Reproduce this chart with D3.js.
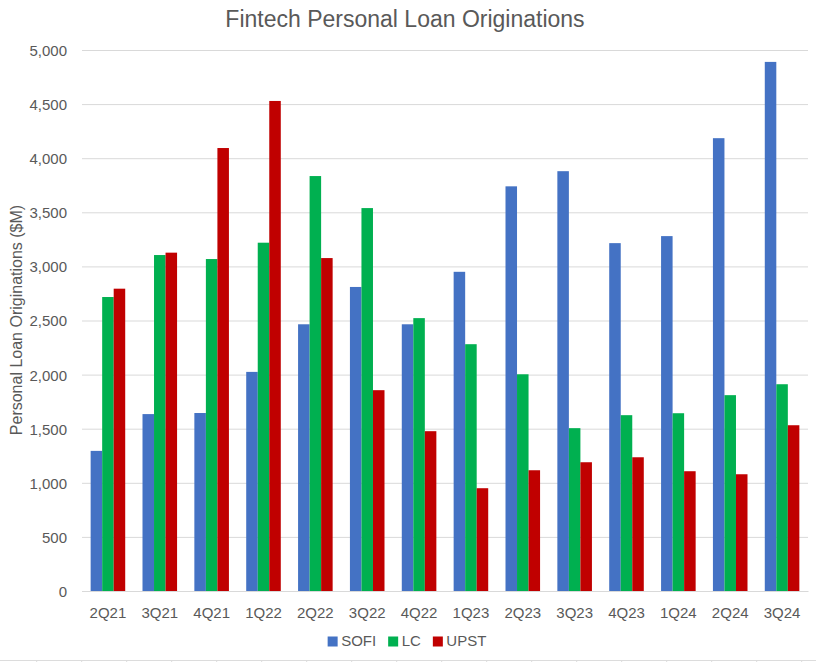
<!DOCTYPE html>
<html>
<head>
<meta charset="utf-8">
<script src="https://cdn.jsdelivr.net/npm/d3@7"></script>
<style>
  html, body { margin: 0; padding: 0; background: #fff; }
  svg { display: block; font-family: "Liberation Sans", Arial, sans-serif; }
</style>
</head>
<body>
<svg id="chart" width="816" height="662"></svg>
<script>
const categories = ["2Q21","3Q21","4Q21","1Q22","2Q22","3Q22","4Q22","1Q23","2Q23","3Q23","4Q23","1Q24","2Q24","3Q24"];
const seriesNames = ["SOFI","LC","UPST"];
const sofiValues = [1295, 1635, 1645, 2025, 2465, 2810, 2465, 2950, 3740, 3880, 3215, 3280, 4185, 4890];
const lcValues   = [2717, 3105, 3068, 3219, 3835, 3539, 2522, 2281, 2003, 1505, 1625, 1643, 1810, 1911];
const upstValues = [2794, 3127, 4094, 4529, 3077, 1856, 1477, 950, 1116, 1190, 1236, 1107, 1079, 1532];
const yTicks = [0, 500, 1000, 1500, 2000, 2500, 3000, 3500, 4000, 4500, 5000];
const colors = { SOFI: "#4472C4", LC: "#00B050", UPST: "#C00000" };

const valuesBySeries = { SOFI: sofiValues, LC: lcValues, UPST: upstValues };
const svg = d3.select("#chart");
const W = 816, H = 662;
const plot = { left: 82, right: 808, top: 50, bottom: 591 };
const textColor = "#595959";

const x0 = d3.scaleBand().domain(categories).range([plot.left, plot.right])
  .paddingInner(1/3).paddingOuter(1/6);
const x1 = d3.scaleBand().domain(seriesNames).range([0, x0.bandwidth()]);
const y = d3.scaleLinear().domain([0, 5000]).range([plot.bottom, plot.top]);

// spreadsheet cell border strip at bottom
svg.append("line").attr("x1", 0).attr("x2", W).attr("y1", 660.5).attr("y2", 660.5)
  .attr("stroke", "#dcdcdc").attr("stroke-width", 1);
d3.range(36.7, W, 45).forEach(xx => {
  svg.append("line").attr("x1", xx).attr("x2", xx).attr("y1", 660).attr("y2", 662)
    .attr("stroke", "#dcdcdc").attr("stroke-width", 1);
});

// title
svg.append("text").attr("x", 405).attr("y", 27).attr("text-anchor", "middle")
  .attr("font-size", 23).attr("fill", textColor).text("Fintech Personal Loan Originations");

// y axis gridlines + labels
const yAxis = d3.axisLeft(y).tickValues(yTicks).tickSize(-(plot.right - plot.left))
  .tickPadding(15).tickFormat(d3.format(","));
const yg = svg.append("g").attr("transform", `translate(${plot.left},0)`).call(yAxis);
yg.select(".domain").remove();
yg.selectAll(".tick line").attr("stroke", "#d9d9d9").attr("stroke-width", 1);
yg.selectAll(".tick text").attr("fill", textColor).attr("font-size", 15)
  .attr("font-family", "Liberation Sans, Arial, sans-serif").attr("dy", "0.36em");

// bars
const groups = svg.append("g").selectAll("g").data(categories).join("g")
  .attr("transform", d => `translate(${x0(d)},0)`);
groups.selectAll("rect")
  .data((c, i) => seriesNames.map(s => ({ s, v: valuesBySeries[s][i] })))
  .join("rect")
  .attr("x", d => x1(d.s))
  .attr("width", x1.bandwidth())
  .attr("y", d => y(d.v))
  .attr("height", d => y(0) - y(d.v))
  .attr("fill", d => colors[d.s]);

// x axis
const xAxis = d3.axisBottom(x0).tickSize(0).tickPadding(16);
const xg = svg.append("g").attr("transform", `translate(0,${plot.bottom})`).call(xAxis);
xg.select(".domain").attr("stroke", "#d9d9d9");
xg.selectAll(".tick text").attr("fill", textColor).attr("font-size", 15)
  .attr("font-family", "Liberation Sans, Arial, sans-serif");

// y axis title
svg.append("text").attr("transform", "translate(22,320) rotate(-90)")
  .attr("text-anchor", "middle").attr("font-size", 16).attr("fill", textColor)
  .text("Personal Loan Originations ($M)");

// legend
const legend = svg.append("g");
const items = legend.selectAll("g").data(seriesNames).join("g");
items.append("rect").attr("width", 10).attr("height", 10).attr("y", 636.5)
  .attr("fill", d => colors[d]);
items.append("text").attr("x", 13.5).attr("y", 646).attr("font-size", 15)
  .attr("fill", textColor).text(d => d);
let cx = 0;
const widths = [];
items.each(function() { widths.push(13.5 + this.querySelector("text").getComputedTextLength()); });
const totalW = d3.sum(widths) + 12 * (widths.length - 1);
let start = 407 - totalW / 2;
items.attr("transform", (d, i) => {
  const t = `translate(${start},0)`;
  start += widths[i] + 12;
  return t;
});
</script>
</body>
</html>
